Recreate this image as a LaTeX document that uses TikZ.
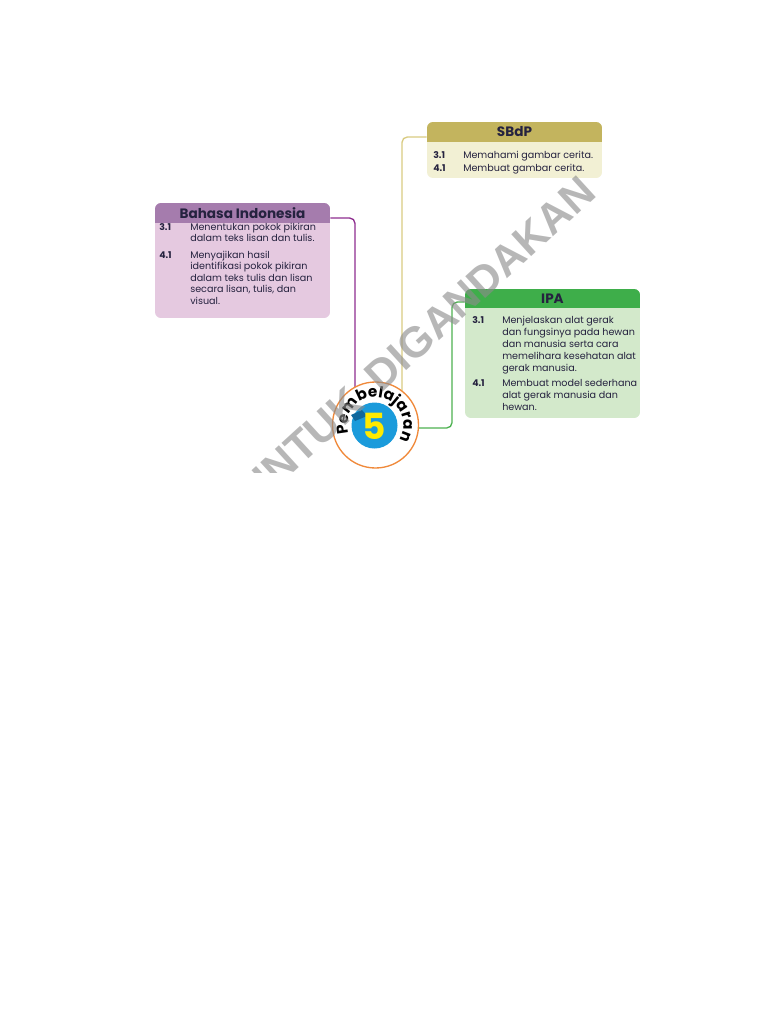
\documentclass[tikz,border=0pt]{standalone}
\usepackage{fontspec}
\setmainfont{Poppins}
\newfontfamily\wmfont{Liberation Sans}
\usetikzlibrary{decorations.text}
\definecolor{biHead}{HTML}{A57CAD}
\definecolor{biBody}{HTML}{E5C9E0}
\definecolor{biLine}{HTML}{8E2E8F}
\definecolor{sbHead}{HTML}{C3B45E}
\definecolor{sbBody}{HTML}{F2F0D4}
\definecolor{sbLine}{HTML}{D9CB82}
\definecolor{ipHead}{HTML}{3EAE4A}
\definecolor{ipBody}{HTML}{D3E9CB}
\definecolor{ipLine}{HTML}{4DB251}
\definecolor{ringOr}{HTML}{F0893A}
\definecolor{innerBl}{HTML}{1B9BDB}
\definecolor{shadeBl}{HTML}{10679C}
\definecolor{fiveYe}{HTML}{FFEA00}
\definecolor{txtDark}{HTML}{25223F}
\definecolor{wmGray}{HTML}{8C8C8C}
\tikzset{
  hdrtext/.style={font=\bfseries\fontsize{10.2}{12}\selectfont, text=txtDark, inner sep=0pt, minimum height=15pt},
  bodytext/.style={font=\fontsize{7.2}{8.4}\selectfont, text=txtDark, inner sep=0pt, anchor=base west},
  numtext/.style={font=\bfseries\fontsize{7}{8.4}\selectfont, text=txtDark, inner sep=0pt, anchor=base west},
  conn/.style={line width=1pt, rounded corners=4pt},
  wmtext/.style={font=\wmfont\bfseries\fontsize{32.2}{33}\selectfont, text=wmGray, opacity=0.62, rotate=42.4, inner sep=0pt},
}
\begin{document}
\begin{tikzpicture}[x=0.75pt,y=-0.75pt]
\useasboundingbox[fill=white] (0,0) rectangle (768,1024);

% ---------- Bahasa Indonesia box
\begin{scope}
\clip[rounded corners=4.5pt] (155,203) rectangle (330,318);
\fill[biBody] (155,203) rectangle (330,318);
\fill[biHead] (155,203) rectangle (330,223);
\end{scope}
\node[hdrtext, minimum width=131.25pt] (bih) at (242.5,213) {Bahasa Indonesia};
\node[numtext] (bin1) at (159,230) {3.1};
\foreach \t [count=\i] in {Menentukan pokok pikiran, dalam teks lisan dan tulis.}
  \node[bodytext] (bia\i) at (190,{230+11.6*(\i-1)}) {\t};
\node[numtext] (bin2) at (159,258) {4.1};
\foreach \t [count=\i] in {Menyajikan hasil, identifikasi pokok pikiran, dalam teks tulis dan lisan, {secara lisan, tulis, dan}, visual.}
  \node[bodytext] (bib\i) at (190,{258+11.6*(\i-1)}) {\t};

% ---------- SBdP box
\begin{scope}
\clip[rounded corners=4.5pt] (427,122) rectangle (602,178);
\fill[sbBody] (427,122) rectangle (602,178);
\fill[sbHead] (427,122) rectangle (602,142);
\end{scope}
\node[hdrtext, minimum width=131.25pt] (sbh) at (514.5,132) {SBdP};
\node[numtext] (sbn1) at (433,158.5) {3.1};
\node[bodytext] (sba1) at (463,158.5) {Memahami gambar cerita.};
\node[numtext] (sbn2) at (433,171) {4.1};
\node[bodytext] (sbb1) at (463,171) {Membuat gambar cerita.};

% ---------- IPA box
\begin{scope}
\clip[rounded corners=4.5pt] (465,289) rectangle (640,418);
\fill[ipBody] (465,289) rectangle (640,418);
\fill[ipHead] (465,289) rectangle (640,308);
\end{scope}
\node[hdrtext, minimum width=131.25pt] (iph) at (552.5,298.5) {IPA};
\node[numtext] (ipn1) at (472,323) {3.1};
\foreach \t [count=\i] in {Menjelaskan alat gerak, dan fungsinya pada hewan, dan manusia serta cara, memelihara kesehatan alat, gerak manusia.}
  \node[bodytext] (ipa\i) at (502,{323+12.2*(\i-1)}) {\t};
\node[numtext] (ipn2) at (472,386) {4.1};
\foreach \t [count=\i] in {Membuat model sederhana, alat gerak manusia dan, hewan.}
  \node[bodytext] (ipb\i) at (502,{386+12.2*(\i-1)}) {\t};

% ---------- centre node position
\coordinate (cen) at (375.5,425);
\coordinate (biJ) at (355,218);
\coordinate (sbJ) at (402,137);
\coordinate (ipJ) at (452,302);

% ---------- connectors
\draw[conn, biLine] (bih.east |- biJ) -- (biJ) -- (biJ |- cen);
\draw[conn, sbLine] (sbh.west |- sbJ) -- (sbJ) -- (sbJ |- cen);
\draw[conn, ipLine] (iph.west |- ipJ) -- (ipJ) -- (ipJ |- 0,428) -- (cen |- 0,428);

% ---------- centre circle
\node[circle, draw=ringOr, line width=1pt, fill=white, minimum size=64.5pt, inner sep=0pt] (ring) at (cen) {};
\node[circle, fill=innerBl, minimum size=34.5pt, inner sep=0pt] (inner) at (374.5,425.5) {};
\fill[shadeBl] (351,415) -- (362,410) -- (367,416) -- (355,421) -- cycle;
\node[font=\bfseries\fontsize{27}{27}\selectfont, text=fiveYe, inner sep=0pt] (five) at (374.5,426.5) {5};
\begin{scope}[shift={(ring.center)}, x=1pt, y=1pt]
\path[decorate, decoration={text along path, text align={fit to path},
   text={|\bfseries\fontsize{11.5}{11.5}\selectfont|Pembelajaran}}]
   (198:21pt) arc[start angle=198, end angle=-22, radius=21pt];
\end{scope}

% ---------- watermark (on top, translucent)
\begin{scope}
\clip (0,0) rectangle (768,472);
\node[wmtext] (wm1) at (301,446.3) {UNTUK};
\node[wmtext] (wm2) at (480,283.5) {DIGANDAKAN};
\end{scope}
\end{tikzpicture}
\end{document}
